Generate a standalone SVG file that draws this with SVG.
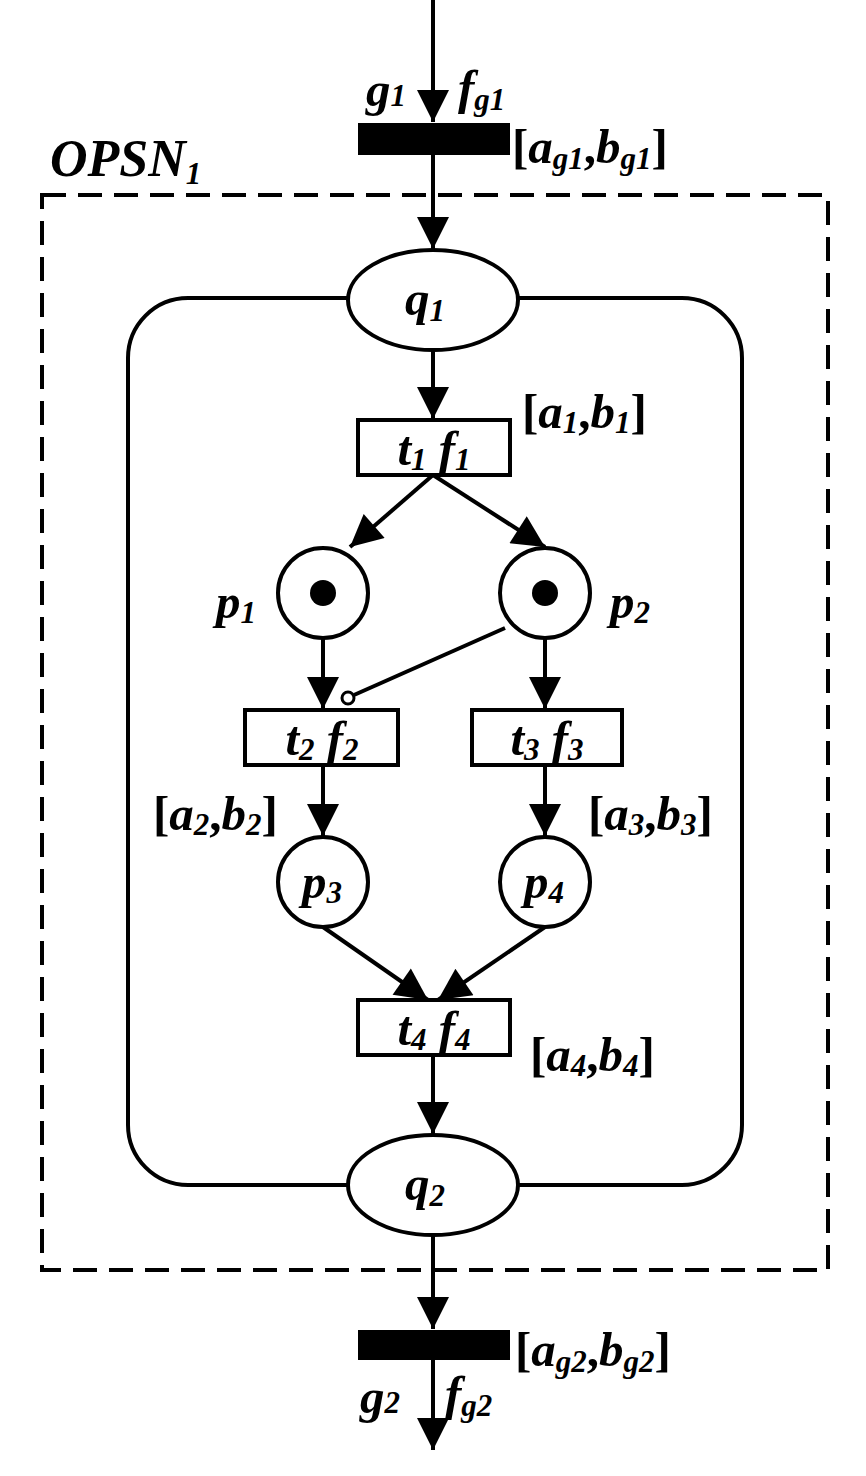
<svg xmlns="http://www.w3.org/2000/svg" width="866" height="1476" viewBox="0 0 866 1476">
<style>
.l{stroke:#000;stroke-width:4;fill:none}
.n{stroke:#000;stroke-width:4;fill:#fff}
text{font-family:"Liberation Serif",serif;font-weight:bold;font-style:italic;font-size:49px;fill:#000}
.s{font-size:31px}
.u{font-style:normal}
</style>
<defs>
<marker id="ar" viewBox="0 0 10 10" refX="10" refY="5" markerWidth="34" markerHeight="32" orient="auto" markerUnits="userSpaceOnUse"><path d="M0,0L10,5L0,10z"/></marker>
</defs>
<rect x="42" y="195" width="786" height="1075" fill="none" stroke="#000" stroke-width="4" stroke-dasharray="24,12"/>
<rect id="frame" x="128" y="298" width="614" height="887" rx="60" class="l"/>
<g id="connectors">
<line x1="433" y1="0" x2="433" y2="122" class="l" marker-end="url(#ar)"/>
<line x1="433" y1="155" x2="433" y2="249" class="l" marker-end="url(#ar)"/>
<line x1="433" y1="350" x2="433" y2="419" class="l" marker-end="url(#ar)"/>
<line x1="433" y1="475" x2="350" y2="547" class="l" marker-end="url(#ar)"/>
<line x1="433" y1="475" x2="545" y2="547" class="l" marker-end="url(#ar)"/>
<line x1="323" y1="638" x2="323" y2="709" class="l" marker-end="url(#ar)"/>
<line x1="545" y1="638" x2="545" y2="709" class="l" marker-end="url(#ar)"/>
<line x1="505" y1="628" x2="354" y2="695" class="l"/>
<circle cx="348" cy="698" r="6" fill="#fff" stroke="#000" stroke-width="3"/>
<line x1="323" y1="765" x2="323" y2="836" class="l" marker-end="url(#ar)"/>
<line x1="545" y1="765" x2="545" y2="836" class="l" marker-end="url(#ar)"/>
<line x1="323" y1="927" x2="428" y2="1000" class="l" marker-end="url(#ar)"/>
<line x1="545" y1="927" x2="438" y2="1000" class="l" marker-end="url(#ar)"/>
<line x1="433" y1="1055" x2="433" y2="1134" class="l" marker-end="url(#ar)"/>
<line x1="433" y1="1235" x2="433" y2="1329" class="l" marker-end="url(#ar)"/>
<line x1="433" y1="1360" x2="433" y2="1450" class="l" marker-end="url(#ar)"/>
</g>
<g id="g1"><rect x="358" y="123" width="152" height="32" fill="#000"/>
<text x="366" y="106">g<tspan class="s">1</tspan></text><text x="458" y="104">f<tspan class="s" dy="6">g1</tspan></text>
<text x="512" y="163"><tspan class="u">[</tspan>a<tspan class="s" dy="6">g1</tspan><tspan dy="-6" class="u">,</tspan>b<tspan class="s" dy="6">g1</tspan><tspan dy="-6" class="u">]</tspan></text></g>
<text x="50" y="176" style="font-size:52px">OPSN<tspan class="s" dy="8">1</tspan></text>
<g id="q1"><ellipse cx="433" cy="300" rx="85" ry="50" class="n"/><text x="425" y="315" text-anchor="middle">q<tspan class="s" dy="6">1</tspan></text></g>
<g id="t1"><rect x="358" y="420" width="152" height="55" class="n"/><text x="434" y="465" text-anchor="middle">t<tspan class="s" dy="5">1</tspan><tspan dy="-5"> f</tspan><tspan class="s" dy="5">1</tspan></text>
<text x="522" y="428"><tspan class="u">[</tspan>a<tspan class="s" dy="5">1</tspan><tspan dy="-5" class="u">,</tspan>b<tspan class="s" dy="5">1</tspan><tspan dy="-5" class="u">]</tspan></text></g>
<g id="p1"><circle cx="323" cy="593" r="45" class="n"/><circle cx="323" cy="593" r="13"/><text x="216" y="618">p<tspan class="s" dy="5">1</tspan></text></g>
<g id="p2"><circle cx="545" cy="593" r="45" class="n"/><circle cx="545" cy="593" r="13"/><text x="610" y="618">p<tspan class="s" dy="5">2</tspan></text></g>
<g id="t2"><rect x="245" y="710" width="153" height="55" class="n"/><text x="322" y="755" text-anchor="middle">t<tspan class="s" dy="5">2</tspan><tspan dy="-5"> f</tspan><tspan class="s" dy="5">2</tspan></text>
<text x="153" y="830"><tspan class="u">[</tspan>a<tspan class="s" dy="5">2</tspan><tspan dy="-5" class="u">,</tspan>b<tspan class="s" dy="5">2</tspan><tspan dy="-5" class="u">]</tspan></text></g>
<g id="t3"><rect x="472" y="710" width="150" height="55" class="n"/><text x="547" y="755" text-anchor="middle">t<tspan class="s" dy="5">3</tspan><tspan dy="-5"> f</tspan><tspan class="s" dy="5">3</tspan></text>
<text x="588" y="830"><tspan class="u">[</tspan>a<tspan class="s" dy="5">3</tspan><tspan dy="-5" class="u">,</tspan>b<tspan class="s" dy="5">3</tspan><tspan dy="-5" class="u">]</tspan></text></g>
<g id="p3"><circle cx="323" cy="882" r="45" class="n"/><text x="322" y="898" text-anchor="middle">p<tspan class="s" dy="5">3</tspan></text></g>
<g id="p4"><circle cx="545" cy="882" r="45" class="n"/><text x="544" y="898" text-anchor="middle">p<tspan class="s" dy="5">4</tspan></text></g>
<g id="t4"><rect x="358" y="1000" width="152" height="55" class="n"/><text x="434" y="1045" text-anchor="middle">t<tspan class="s" dy="5">4</tspan><tspan dy="-5"> f</tspan><tspan class="s" dy="5">4</tspan></text>
<text x="530" y="1071"><tspan class="u">[</tspan>a<tspan class="s" dy="5">4</tspan><tspan dy="-5" class="u">,</tspan>b<tspan class="s" dy="5">4</tspan><tspan dy="-5" class="u">]</tspan></text></g>
<g id="q2"><ellipse cx="433" cy="1185" rx="85" ry="50" class="n"/><text x="425" y="1200" text-anchor="middle">q<tspan class="s" dy="6">2</tspan></text></g>
<g id="g2"><rect x="358" y="1330" width="152" height="30" fill="#000"/>
<text x="515" y="1366"><tspan class="u">[</tspan>a<tspan class="s" dy="6">g2</tspan><tspan dy="-6" class="u">,</tspan>b<tspan class="s" dy="6">g2</tspan><tspan dy="-6" class="u">]</tspan></text>
<text x="360" y="1413">g<tspan class="s">2</tspan></text><text x="445" y="1410">f<tspan class="s" dy="6">g2</tspan></text></g>
</svg>
